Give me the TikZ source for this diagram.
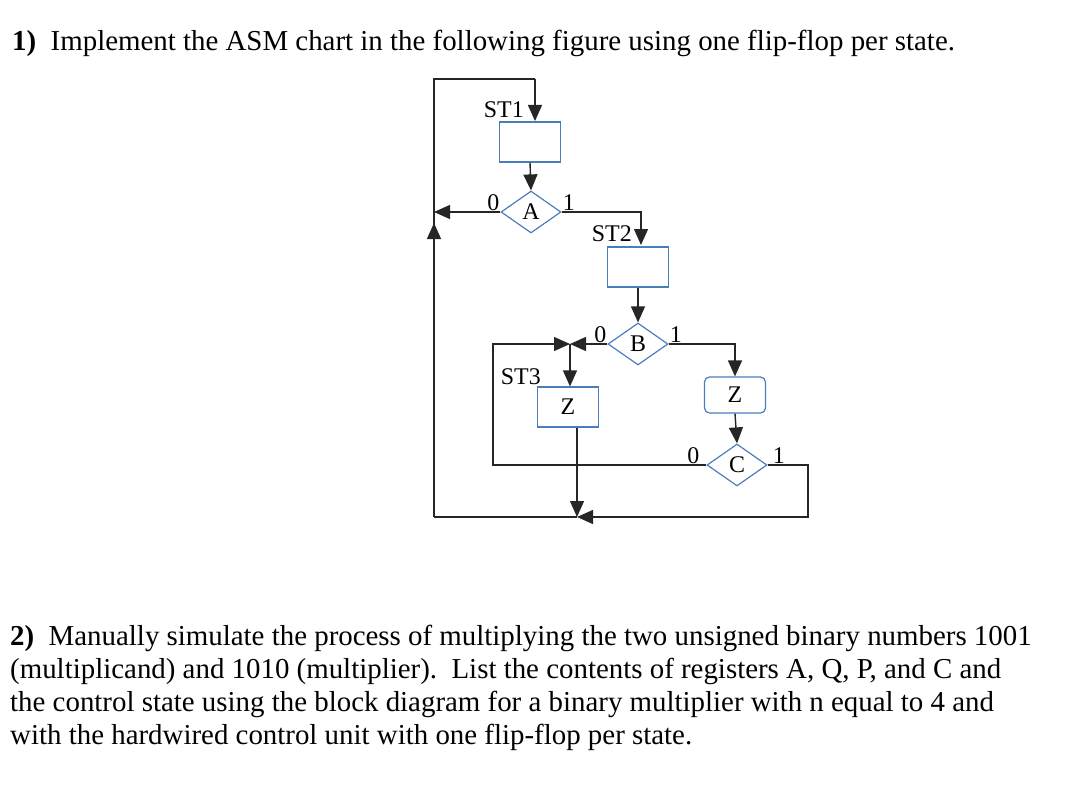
\documentclass[tikz,border=0pt]{standalone}
\usepackage{fontspec}
\setmainfont{Liberation Serif}
\usetikzlibrary{arrows.meta,shapes.geometric}
\definecolor{shapeblue}{HTML}{4A7EBB}
\begin{document}
\begin{tikzpicture}[x=1bp,y=-1bp,
  box/.style={draw=shapeblue,line width=1.2pt,minimum width=61bp,minimum height=40bp,inner sep=0pt},
  dia/.style={diamond,draw=shapeblue,line width=1.2pt,minimum width=60bp,minimum height=42bp,inner sep=0pt,aspect=1.4},
  lbl/.style={font=\fontsize{24}{24}\selectfont,inner sep=1pt},
  wire/.style={line width=1.4pt,draw=black!85,-{Triangle[length=16bp,width=14bp]}},
  line/.style={line width=1.4pt,draw=black!85}]
\useasboundingbox (0,0) rectangle (1076,788);
% text
\node[anchor=base west,inner sep=0pt,font=\fontsize{29}{29}\selectfont] (t1) at (12,51)
  {\textbf{1)}\ \ Implement the ASM chart in the following figure using one flip-flop per state.};
\node[anchor=north west,inner sep=0pt,align=left,font=\fontsize{29}{33}\selectfont] (t2) at (10,625)
  {\textbf{2)}\ \ Manually simulate the process of multiplying the two unsigned binary numbers 1001\\
  (multiplicand) and 1010 (multiplier).\ \ List the contents of registers A, Q, P, and C and\\
  the control state using the block diagram for a binary multiplier with n equal to 4 and\\
  with the hardwired control unit with one flip-flop per state.};
% blocks
\node[box] (s1) at (530,142) {};
\node[dia,lbl] (a) at (531,212) {A};
\node[box] (s2) at (638,267) {};
\node[dia,lbl] (b) at (638,344) {B};
\node[box,lbl] (s3) at (568,407) {Z};
\node[box,lbl,rounded corners=5bp,minimum height=36bp] (z2) at (735,395) {Z};
\node[dia,lbl] (c) at (737,465) {C};
\node[lbl,anchor=south east] (l1) at (525,119) {ST1};
\node[lbl,anchor=south east] (l2) at (633,243) {ST2};
\node[lbl,anchor=south east] (l3) at (542,386) {ST3};
\node[lbl,anchor=south east] at (a.west) {0};
\node[lbl,anchor=south west] at (a.east) {1};
\node[lbl,anchor=south east] at (b.west) {0};
\node[lbl,anchor=south west] at (b.east) {1};
\node[lbl,anchor=south east] at ([xshift=-6bp]c.west) {0};
\node[lbl,anchor=south west] at ([xshift=4bp]c.east) {1};
% coordinates
\coordinate (tl) at (434,79);
\coordinate (jl) at (434,212);
\coordinate (bl) at (434,517);
\coordinate (j3) at (570,344);
\coordinate (bj) at (577,517);
% connectors
\draw[wire] (bl) -- (434,223);
\draw[wire] (a.west) -- (jl);
\draw[line] (bl) -- (tl) -- (535,79);
\draw[wire] (535,79) -- (535,121);
\draw[wire] (s1.south) -- (a.north);
\draw[wire] (a.east) -| (641,245);
\draw[wire] (s2.south) -- (b.north);
\draw[wire] (b.west) -- (j3);
\draw[wire] (c.west) -| (493,344) -- (j3);
\draw[wire] (j3) -- (j3 |- s3.north);
\draw[wire] (b.east) -| (z2.north);
\draw[wire] (z2.south) -- (c.north);
\draw[wire] (s3.south -| bj) -- (bj);
\draw[wire] (c.east) -| (808,517) -- (bj);
\draw[line] (bl) -- (bj);
\end{tikzpicture}
\end{document}
